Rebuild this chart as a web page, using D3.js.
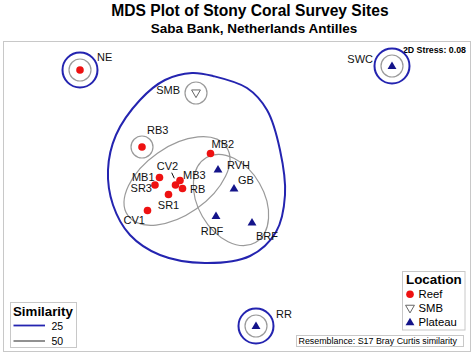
<!DOCTYPE html>
<html><head><meta charset="utf-8">
<script src="https://cdn.jsdelivr.net/npm/d3@7"></script>
<style>body{margin:0;background:#fff}svg{display:block;font-family:"Liberation Sans",Arial,sans-serif}</style>
</head><body><svg id="c" width="474" height="356"></svg>
<script>
// ---- data (MDS coordinates) ----
const sites   = ["NE","SWC","SMB","RR","RB3","MB2","MB1","SR3","CV2","MB3","RB","SR1","CV1","RVH","GB","RDF","BRF"];
const groups  = ["Reef","Plateau","SMB","Plateau","Reef","Reef","Reef","Reef","Reef","Reef","Reef","Reef","Reef","Plateau","Plateau","Plateau","Plateau"];
const mds1    = [-1.57, 1.55,-0.41, 0.19,-0.95,-0.265,-0.775,-0.82,-0.615,-0.57,-0.545,-0.685,-0.895,-0.19,-0.03,-0.21, 0.15];
const mds2    = [ 1.26, 1.30, 1.03,-1.30, 0.49, 0.425, 0.185, 0.11, 0.11, 0.155, 0.075, 0.015,-0.145, 0.265, 0.075,-0.20,-0.265];
// label offsets (px) and anchors
const labDx   = [17,-19,-16,20,5,1,-5,-3,-8,3,7.5,0,-2.5,9,4,-4,4];
const labDy   = [-9,-3,1,-8,-13,-6,3,7,-15,-2,4,14.5,13.5,-1,-5,19,17.5];
const labAnch = ["start","end","end","start","start","start","end","end","middle","start","start","middle","end","start","start","middle","start"];
// similarity contours
const isolated = ["NE","SWC","RR"];           // both 25 and 50 circles
const circle50 = ["NE","SWC","RR","SMB","RB3"];
const circR50 = 0.11, circR25 = 0.175;
const ellipses50 = [ {cx:-0.60, cy:0.15, a:0.60, b:0.34, angle:-35}, {cx:-0.06, cy:-0.04, a:0.49, b:0.33, angle:60} ];
const blob25x = [-0.45,-0.24,0.10,0.30,0.43,0.48,0.39,0.13,-0.32,-0.77,-1.07,-1.24,-1.29,-1.21,-0.97,-0.72];
const blob25y = [ 1.23, 1.20,1.08,0.86,0.46,0.01,-0.36,-0.60,-0.67,-0.59,-0.39,-0.09,0.26,0.61,0.96,1.16];
const simLevels = ["25","50"];
const locations = ["Reef","SMB","Plateau"];

const BLUE="#2424b0", GRAY="#9a9a9a", RED="#ee1111", NAVY="#14148a";
const svg = d3.select("#c");
const x = d3.scaleLinear().domain([-2.34,2.34]).range([3,471]);
const y = d3.scaleLinear().domain([-1.55,1.55]).range([351,41]);
const px = d => x(d) - x(0);

// titles
svg.append("text").attr("x",250).attr("y",15.5).attr("text-anchor","middle").attr("font-weight","bold").attr("font-size",15.6).text("MDS Plot of Stony Coral Survey Sites");
svg.append("text").attr("x",254).attr("y",32.5).attr("text-anchor","middle").attr("font-weight","bold").attr("font-size",13.5).text("Saba Bank, Netherlands Antilles");
// frame
svg.append("rect").attr("x",3.5).attr("y",41.5).attr("width",467).attr("height",310).attr("fill","none").attr("stroke","#c8c8c8");
svg.append("text").attr("x",466).attr("y",52.5).attr("text-anchor","end").attr("font-weight","bold").attr("font-size",8.8).text("2D Stress: 0.08");

const idx = n => sites.indexOf(n);
// 25% contour blob
const blobPts = blob25x.map((v,i)=>[x(v),y(blob25y[i])]);
svg.append("path").attr("d", d3.line().curve(d3.curveCatmullRomClosed.alpha(0.5))(blobPts))
  .attr("fill","none").attr("stroke",BLUE).attr("stroke-width",2);
isolated.forEach(n=>{
  svg.append("circle").attr("cx",x(mds1[idx(n)])).attr("cy",y(mds2[idx(n)])).attr("r",px(circR25))
    .attr("fill","none").attr("stroke",BLUE).attr("stroke-width",2);
});
circle50.forEach(n=>{
  svg.append("circle").attr("cx",x(mds1[idx(n)])).attr("cy",y(mds2[idx(n)])).attr("r",px(circR50))
    .attr("fill","none").attr("stroke",GRAY).attr("stroke-width",1.2);
});
ellipses50.forEach(e=>{
  svg.append("ellipse").attr("cx",0).attr("cy",0).attr("rx",px(e.a)).attr("ry",px(e.b))
    .attr("transform",`translate(${x(e.cx)},${y(e.cy)}) rotate(${e.angle})`)
    .attr("fill","none").attr("stroke",GRAY).attr("stroke-width",1.2);
});

function marker(g, grp, cx, cy){
  if(grp==="Reef") g.append("circle").attr("cx",cx).attr("cy",cy).attr("r",3.8).attr("fill",RED);
  else if(grp==="Plateau") g.append("path").attr("d",d3.symbol().type(d3.symbolTriangle).size(34)()).attr("transform",`translate(${cx},${cy+0.5})`).attr("fill",NAVY);
  else g.append("path").attr("d",d3.symbol().type(d3.symbolTriangle).size(34)()).attr("transform",`translate(${cx},${cy-0.5}) rotate(180)`).attr("fill","#fff").attr("stroke","#666").attr("stroke-width",1);
}
sites.forEach((n,i)=>{
  const cx=x(mds1[i]), cy=y(mds2[i]);
  marker(svg, groups[i], cx, cy);
  svg.append("text").attr("x",cx+labDx[i]).attr("y",cy+labDy[i]).attr("text-anchor",labAnch[i]).attr("font-size",11).attr("fill","#111").text(n);
});
// CV2 leader line
{ const i=idx("CV2"); const cx=x(mds1[i]), cy=y(mds2[i]);
  svg.append("line").attr("x1",cx-3.8).attr("y1",cy-12.3).attr("x2",cx-1.2).attr("y2",cy-6.7).attr("stroke","#111").attr("stroke-width",1); }

// Similarity legend
const sl = svg.append("g");
sl.append("rect").attr("x",10.5).attr("y",302.5).attr("width",66).attr("height",45).attr("fill","#fff").attr("stroke","#c8c8c8");
sl.append("text").attr("x",13).attr("y",316).attr("font-weight","bold").attr("font-size",13.3).text("Similarity");
simLevels.forEach((s,i)=>{
  const yy = 325.5 + i*15.5;
  sl.append("line").attr("x1",13.5).attr("x2",45).attr("y1",yy).attr("y2",yy).attr("stroke",i===0?BLUE:"#555").attr("stroke-width",i===0?1.8:1.3);
  sl.append("text").attr("x",51.5).attr("y",yy+4).attr("font-size",10.5).text(s);
});
// Location legend
const ll = svg.append("g");
ll.append("rect").attr("x",402.5).attr("y",271.5).attr("width",62.5).attr("height",58.5).attr("fill","#fff").attr("stroke","#c8c8c8");
ll.append("text").attr("x",406).attr("y",283.5).attr("font-weight","bold").attr("font-size",13.4).text("Location");
locations.forEach((l,i)=>{
  const yy = 294.3 + i*14;
  marker(ll, l, 410, yy);
  ll.append("text").attr("x",418.5).attr("y",yy+3.8).attr("font-size",11.3).text(l);
});
// Resemblance box
svg.append("rect").attr("x",296.5).attr("y",335.5).attr("width",167).attr("height",11).attr("fill","#fff").attr("stroke","#c8c8c8");
svg.append("text").attr("x",298.5).attr("y",344.3).attr("font-size",8.9).text("Resemblance: S17 Bray Curtis similarity");
</script></body></html>
